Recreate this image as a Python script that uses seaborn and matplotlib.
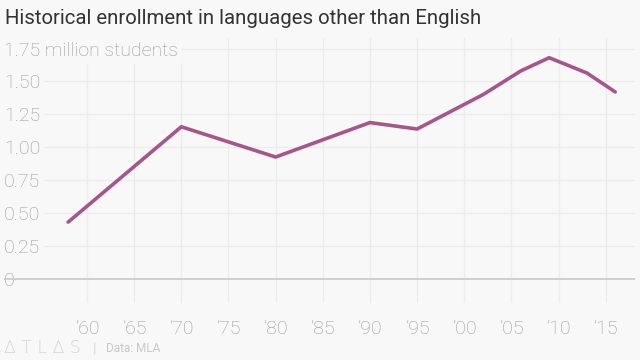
import matplotlib
matplotlib.use("Agg")
import matplotlib.pyplot as plt
import seaborn as sns
import pandas as pd

# MLA enrollment in languages other than English (millions of students)
years = [1958, 1970, 1980, 1990, 1995, 2002, 2006, 2009, 2013, 2016]
enrollment = [0.43, 1.155, 0.925, 1.187, 1.138, 1.40, 1.58, 1.68, 1.564, 1.42]

x_ticks = [1960, 1965, 1970, 1975, 1980, 1985, 1990, 1995, 2000, 2005, 2010, 2015]
x_labels = ["\u201960", "\u201965", "\u201970", "\u201975", "\u201980", "\u201985",
            "\u201990", "\u201995", "\u201900", "\u201905", "\u201910", "\u201915"]
y_ticks = [0, 0.25, 0.5, 0.75, 1.0, 1.25, 1.5, 1.75]
y_labels = ["0", "0.25", "0.50", "0.75", "1.00", "1.25", "1.50", "1.75 million students"]

bg = "#f8f8f8"
line_color = "#a8568a"
tick_color = "#999999"

sns.set_theme(style="white")
plt.rcParams["font.family"] = ["Roboto", "DejaVu Sans"]

df = pd.DataFrame({"year": years, "enrollment": enrollment})

fig = plt.figure(figsize=(6.4, 3.6), dpi=100, facecolor=bg)
ax = fig.add_axes([4 / 640, 57 / 360, 631 / 640, 265 / 360], facecolor=bg)

sns.lineplot(data=df, x="year", y="enrollment", color=line_color, linewidth=2.6, ax=ax,
             solid_capstyle="round", solid_joinstyle="miter", zorder=5)

ax.set_xlim(1951.2, 2018.1)
ax.set_ylim(-0.185, 1.83)

# vertical gridlines
for xt in x_ticks:
    ax.axvline(xt, color="#ececec", linewidth=0.9, zorder=0)
# horizontal gridlines
for yt in y_ticks[1:]:
    ax.axhline(yt, color="#ececec", linewidth=0.9, zorder=0)
ax.axhline(0, color="#cccccc", linewidth=1.3, zorder=1)

ax.set_xticks(x_ticks)
ax.set_xticklabels(x_labels)
ax.set_yticks(y_ticks)
ax.set_yticklabels(y_labels)
ax.tick_params(axis="x", length=0, pad=12, labelsize=14, labelcolor=tick_color)
ax.tick_params(axis="y", length=0, pad=0, labelsize=14, labelcolor=tick_color)
for lab in ax.get_yticklabels():
    lab.set_horizontalalignment("left")
    lab.set_fontweight("light")
    lab.set_bbox(dict(facecolor=bg, edgecolor="none", pad=3))
    lab.set_zorder(3)
for lab in ax.get_xticklabels():
    lab.set_fontweight("light")

ax.set_xlabel("")
ax.set_ylabel("")
for s in ax.spines.values():
    s.set_visible(False)

fig.text(5 / 640, 1 - 18 / 360, "Historical enrollment in languages other than English",
         fontsize=14.7, color="#333333", ha="left", va="center")

fig.text(4 / 640, 1 - 348 / 360, "\u2206 T L \u2206 S", fontsize=12.5, color="#d4d4d4",
         ha="left", va="center", family=["DejaVu Sans"], fontweight="light")
fig.text(93 / 640, 1 - 348 / 360, "|", fontsize=10, color="#dadada", ha="left", va="center")
fig.text(106 / 640, 1 - 348 / 360, "Data: MLA", fontsize=8.5, color="#c8c8c8",
         ha="left", va="center")

fig.savefig("out.png", dpi=100, facecolor=bg)
